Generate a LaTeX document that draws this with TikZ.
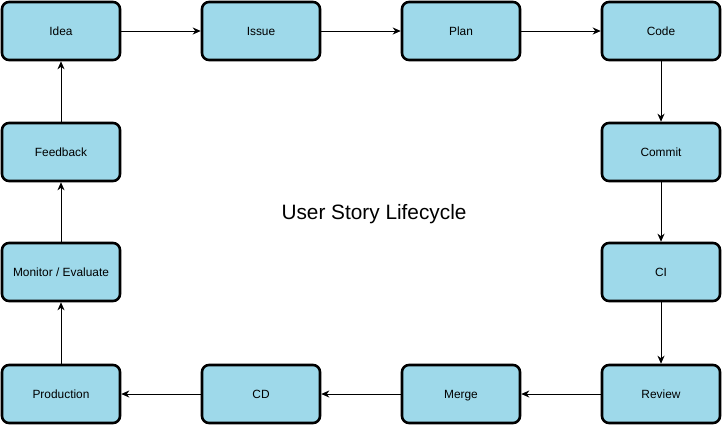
\documentclass[tikz,border=0pt]{standalone}
\usepackage{fontspec}
\setmainfont{Liberation Sans}
\usetikzlibrary{arrows.meta}
\definecolor{boxfill}{HTML}{9ED9EA}
\tikzset{
  stage/.style={draw=black, line width=2.6pt, fill=boxfill, rounded corners=7pt,
    minimum width=118pt, minimum height=58pt, inner sep=0pt, text height=10pt, text depth=1.2pt,
    font=\fontsize{11.9}{14}\selectfont},
  flow/.style={draw=black, line width=0.9pt, -{Stealth[length=8pt,width=7pt,inset=2.5pt]}}
}
\begin{document}
\begin{tikzpicture}[x=1pt,y=-1pt]
\useasboundingbox (0,0) rectangle (723,426);
\node[stage] (idea) at (61,31) {Idea};
\node[stage] (issue) at (261,31) {Issue};
\node[stage] (plan) at (461,31) {Plan};
\node[stage] (code) at (661,31) {Code};
\node[stage] (commit) at (661,152) {Commit};
\node[stage] (ci) at (661,272) {CI};
\node[stage] (review) at (661,394) {Review};
\node[stage] (merge) at (461,394) {Merge};
\node[stage] (cd) at (261,394) {CD};
\node[stage] (prod) at (61,394) {Production};
\node[stage] (monitor) at (61,272) {Monitor / Evaluate};
\node[stage] (feedback) at (61,152) {Feedback};
\node[font=\fontsize{20.8}{24}\selectfont] (title) at (374,214) {User Story Lifecycle};
\draw[flow] (idea) -- (issue);
\draw[flow] (issue) -- (plan);
\draw[flow] (plan) -- (code);
\draw[flow] (code) -- (commit);
\draw[flow] (commit) -- (ci);
\draw[flow] (ci) -- (review);
\draw[flow] (review) -- (merge);
\draw[flow] (merge) -- (cd);
\draw[flow] (cd) -- (prod);
\draw[flow] (prod) -- (monitor);
\draw[flow] (monitor) -- (feedback);
\draw[flow] (feedback) -- (idea);
\end{tikzpicture}
\end{document}
